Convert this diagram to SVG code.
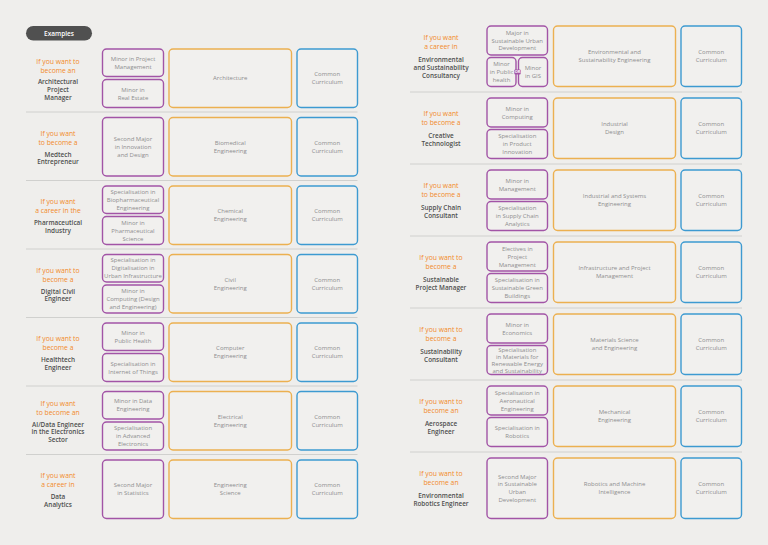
<svg xmlns="http://www.w3.org/2000/svg" width="768" height="545" viewBox="0 0 768 545">
<style>
.bg{fill:#EFEEEC}
rect.p{fill:#F1F0EE;stroke:#A254A6;stroke-width:1.4}
rect.o{fill:#F1F0EE;stroke:#ECB050;stroke-width:1.4}
rect.b{fill:#F1F0EE;stroke:#3D9AD1;stroke-width:1.4}
text{font-family:"Open Sans","Noto Sans","Liberation Sans",sans-serif;text-anchor:middle}
.t{font-size:6px;fill:#8E8E8E}
.q{font-size:6.8px;fill:#F28A2A}
.d{font-size:6.4px;font-weight:600;fill:#4E4E4E}
.sep{stroke:#D0D0CE;stroke-width:1}
</style>
<rect class="bg" x="0" y="0" width="768" height="545"/>
<g id="examples">
<rect x="26" y="26" width="66" height="14.5" rx="7.25" fill="#505050"/>
<text x="59" y="35.6" font-size="6.5" font-weight="600" fill="#FFFFFF">Examples</text>
</g>
<g id="separators">
<line class="sep" x1="26" y1="112" x2="357.5" y2="112"/>
<line class="sep" x1="26" y1="180.5" x2="357.5" y2="180.5"/>
<line class="sep" x1="26" y1="249" x2="357.5" y2="249"/>
<line class="sep" x1="26" y1="317.5" x2="357.5" y2="317.5"/>
<line class="sep" x1="26" y1="386" x2="357.5" y2="386"/>
<line class="sep" x1="26" y1="454.5" x2="357.5" y2="454.5"/>
<line class="sep" x1="410" y1="92" x2="742" y2="92"/>
<line class="sep" x1="410" y1="164" x2="742" y2="164"/>
<line class="sep" x1="410" y1="236" x2="742" y2="236"/>
<line class="sep" x1="410" y1="308" x2="742" y2="308"/>
<line class="sep" x1="410" y1="380" x2="742" y2="380"/>
<line class="sep" x1="410" y1="452" x2="742" y2="452"/>
</g>

<!-- LEFT ROW 1 -->
<g id="l1-label"><text class="q" x="58" y="63.6">If you want to</text><text class="q" x="58" y="72.6">become an</text><text class="d" x="58" y="84.1">Architectural</text><text class="d" x="58" y="91.8">Project</text><text class="d" x="58" y="99.5">Manager</text></g>
<g id="l1-p1"><rect class="p" x="102.5" y="49" width="61" height="27.5" rx="4"/><text class="t" x="133" y="60.75">Minor in Project</text><text class="t" x="133" y="68.75">Management</text></g>
<g id="l1-p2"><rect class="p" x="102.5" y="79.5" width="61" height="28" rx="4"/><text class="t" x="133" y="91.5">Minor in</text><text class="t" x="133" y="99.5">Real Estate</text></g>
<g id="l1-o"><rect class="o" x="169" y="49" width="122.5" height="58.5" rx="4"/><text class="t" x="230.25" y="80.25">Architecture</text></g>
<g id="l1-b"><rect class="b" x="297" y="49" width="60.5" height="58.5" rx="4"/><text class="t" x="327.25" y="76.25">Common</text><text class="t" x="327.25" y="84.25">Curriculum</text></g>

<!-- LEFT ROW 2 -->
<g id="l2-label"><text class="q" x="58" y="135.9">If you want</text><text class="q" x="58" y="144.9">to become a</text><text class="d" x="58" y="156.5">Medtech</text><text class="d" x="58" y="164.2">Entrepreneur</text></g>
<g id="l2-p1"><rect class="p" x="102.5" y="117.5" width="61" height="58.5" rx="4"/><text class="t" x="133" y="140.75">Second Major</text><text class="t" x="133" y="148.75">in Innovation</text><text class="t" x="133" y="156.75">and Design</text></g>
<g id="l2-o"><rect class="o" x="169" y="117.5" width="122.5" height="58.5" rx="4"/><text class="t" x="230.25" y="144.75">Biomedical</text><text class="t" x="230.25" y="152.75">Engineering</text></g>
<g id="l2-b"><rect class="b" x="297" y="117.5" width="60.5" height="58.5" rx="4"/><text class="t" x="327.25" y="144.75">Common</text><text class="t" x="327.25" y="152.75">Curriculum</text></g>

<!-- LEFT ROW 3 -->
<g id="l3-label"><text class="q" x="58" y="204.4">If you want</text><text class="q" x="58" y="213.4">a career in the</text><text class="d" x="58" y="225">Pharmaceutical</text><text class="d" x="58" y="232.7">Industry</text></g>
<g id="l3-p1"><rect class="p" x="102.5" y="186" width="61" height="27.5" rx="4"/><text class="t" x="133" y="193.75">Specialisation in</text><text class="t" x="133" y="201.75">Biopharmaceutical</text><text class="t" x="133" y="209.75">Engineering</text></g>
<g id="l3-p2"><rect class="p" x="102.5" y="216.5" width="61" height="28" rx="4"/><text class="t" x="133" y="224.5">Minor in</text><text class="t" x="133" y="232.5">Pharmaceutical</text><text class="t" x="133" y="240.5">Science</text></g>
<g id="l3-o"><rect class="o" x="169" y="186" width="122.5" height="58.5" rx="4"/><text class="t" x="230.25" y="213.25">Chemical</text><text class="t" x="230.25" y="221.25">Engineering</text></g>
<g id="l3-b"><rect class="b" x="297" y="186" width="60.5" height="58.5" rx="4"/><text class="t" x="327.25" y="213.25">Common</text><text class="t" x="327.25" y="221.25">Curriculum</text></g>

<!-- LEFT ROW 4 -->
<g id="l4-label"><text class="q" x="58" y="272.9">If you want to</text><text class="q" x="58" y="281.9">become a</text><text class="d" x="58" y="293.5">Digital Civil</text><text class="d" x="58" y="301.2">Engineer</text></g>
<g id="l4-p1"><rect class="p" x="102.5" y="254.5" width="61" height="27.5" rx="4"/><text class="t" x="133" y="262.25">Specialisation in</text><text class="t" x="133" y="270.25">Digitalisation in</text><text class="t" x="133" y="278.25">Urban Infrastructure</text></g>
<g id="l4-p2"><rect class="p" x="102.5" y="285" width="61" height="28" rx="4"/><text class="t" x="133" y="293">Minor in</text><text class="t" x="133" y="301">Computing (Design</text><text class="t" x="133" y="309">and Engineering)</text></g>
<g id="l4-o"><rect class="o" x="169" y="254.5" width="122.5" height="58.5" rx="4"/><text class="t" x="230.25" y="281.75">Civil</text><text class="t" x="230.25" y="289.75">Engineering</text></g>
<g id="l4-b"><rect class="b" x="297" y="254.5" width="60.5" height="58.5" rx="4"/><text class="t" x="327.25" y="281.75">Common</text><text class="t" x="327.25" y="289.75">Curriculum</text></g>

<!-- LEFT ROW 5 -->
<g id="l5-label"><text class="q" x="58" y="341.4">If you want to</text><text class="q" x="58" y="350.4">become a</text><text class="d" x="58" y="362">Healthtech</text><text class="d" x="58" y="369.7">Engineer</text></g>
<g id="l5-p1"><rect class="p" x="102.5" y="323" width="61" height="27.5" rx="4"/><text class="t" x="133" y="334.75">Minor in</text><text class="t" x="133" y="342.75">Public Health</text></g>
<g id="l5-p2"><rect class="p" x="102.5" y="353.5" width="61" height="28" rx="4"/><text class="t" x="133" y="365.5">Specialisation in</text><text class="t" x="133" y="373.5">Internet of Things</text></g>
<g id="l5-o"><rect class="o" x="169" y="323" width="122.5" height="58.5" rx="4"/><text class="t" x="230.25" y="350.25">Computer</text><text class="t" x="230.25" y="358.25">Engineering</text></g>
<g id="l5-b"><rect class="b" x="297" y="323" width="60.5" height="58.5" rx="4"/><text class="t" x="327.25" y="350.25">Common</text><text class="t" x="327.25" y="358.25">Curriculum</text></g>

<!-- LEFT ROW 6 -->
<g id="l6-label"><text class="q" x="58" y="406.1">If you want</text><text class="q" x="58" y="415.1">to become an</text><text class="d" x="58" y="426.6">AI/Data Engineer</text><text class="d" x="58" y="434.3">in the Electronics</text><text class="d" x="58" y="442">Sector</text></g>
<g id="l6-p1"><rect class="p" x="102.5" y="391.5" width="61" height="27.5" rx="4"/><text class="t" x="133" y="403.25">Minor in Data</text><text class="t" x="133" y="411.25">Engineering</text></g>
<g id="l6-p2"><rect class="p" x="102.5" y="422" width="61" height="28" rx="4"/><text class="t" x="133" y="430">Specialisation</text><text class="t" x="133" y="438">in Advanced</text><text class="t" x="133" y="446">Electronics</text></g>
<g id="l6-o"><rect class="o" x="169" y="391.5" width="122.5" height="58.5" rx="4"/><text class="t" x="230.25" y="418.75">Electrical</text><text class="t" x="230.25" y="426.75">Engineering</text></g>
<g id="l6-b"><rect class="b" x="297" y="391.5" width="60.5" height="58.5" rx="4"/><text class="t" x="327.25" y="418.75">Common</text><text class="t" x="327.25" y="426.75">Curriculum</text></g>

<!-- LEFT ROW 7 -->
<g id="l7-label"><text class="q" x="58" y="478.4">If you want</text><text class="q" x="58" y="487.4">a career in</text><text class="d" x="58" y="499">Data</text><text class="d" x="58" y="506.7">Analytics</text></g>
<g id="l7-p1"><rect class="p" x="102.5" y="460" width="61" height="58.5" rx="4"/><text class="t" x="133" y="487.25">Second Major</text><text class="t" x="133" y="495.25">in Statistics</text></g>
<g id="l7-o"><rect class="o" x="169" y="460" width="122.5" height="58.5" rx="4"/><text class="t" x="230.25" y="487.25">Engineering</text><text class="t" x="230.25" y="495.25">Science</text></g>
<g id="l7-b"><rect class="b" x="297" y="460" width="60.5" height="58.5" rx="4"/><text class="t" x="327.25" y="487.25">Common</text><text class="t" x="327.25" y="495.25">Curriculum</text></g>

<!-- RIGHT ROW 1 -->
<g id="r1-label"><text class="q" x="441" y="40.45">If you want</text><text class="q" x="441" y="49.15">a career in</text><text class="d" x="441" y="62.25">Environmental</text><text class="d" x="441" y="69.95">and Sustainability</text><text class="d" x="441" y="77.65">Consultancy</text></g>
<g id="r1-p1"><rect class="p" x="487" y="26" width="60.5" height="29" rx="4"/><text class="t" x="517.25" y="35">Major in</text><text class="t" x="517.25" y="42.5">Sustainable Urban</text><text class="t" x="517.25" y="50">Development</text></g>
<g id="r1-p2"><rect class="p" x="487" y="57.5" width="29" height="29" rx="4"/><text class="t" x="501.5" y="66">Minor</text><text class="t" x="501.5" y="74">in Public</text><text class="t" x="501.5" y="82">health</text></g>
<g id="r1-p3"><rect class="p" x="518.5" y="57.5" width="29" height="29" rx="4"/><text class="t" x="533" y="70">Minor</text><text class="t" x="533" y="78">in GIS</text></g>
<g id="r1-or"><rect x="514.3" y="69.4" width="6.4" height="5.2" rx="1" fill="#A254A6"/><text x="517.5" y="73.3" font-size="3.8" font-weight="700" fill="#FFFFFF">OR</text></g>
<g id="r1-o"><rect class="o" x="553.5" y="26" width="122" height="60.5" rx="4"/><text class="t" x="614.5" y="54.25">Environmental and</text><text class="t" x="614.5" y="62.25">Sustainability Engineering</text></g>
<g id="r1-b"><rect class="b" x="681" y="26" width="60.5" height="60.5" rx="4"/><text class="t" x="711.25" y="54.25">Common</text><text class="t" x="711.25" y="62.25">Curriculum</text></g>

<!-- RIGHT ROW 2 -->
<g id="r2-label"><text class="q" x="441" y="116.3">If you want</text><text class="q" x="441" y="125">to become a</text><text class="d" x="441" y="138.1">Creative</text><text class="d" x="441" y="145.8">Technologist</text></g>
<g id="r2-p1"><rect class="p" x="487" y="98" width="60.5" height="29" rx="4"/><text class="t" x="517.25" y="110.5">Minor in</text><text class="t" x="517.25" y="118.5">Computing</text></g>
<g id="r2-p2"><rect class="p" x="487" y="129.5" width="60.5" height="29" rx="4"/><text class="t" x="517.25" y="138">Specialisation</text><text class="t" x="517.25" y="146">in Product</text><text class="t" x="517.25" y="154">Innovation</text></g>
<g id="r2-o"><rect class="o" x="553.5" y="98" width="122" height="60.5" rx="4"/><text class="t" x="614.5" y="126.25">Industrial</text><text class="t" x="614.5" y="134.25">Design</text></g>
<g id="r2-b"><rect class="b" x="681" y="98" width="60.5" height="60.5" rx="4"/><text class="t" x="711.25" y="126.25">Common</text><text class="t" x="711.25" y="134.25">Curriculum</text></g>

<!-- RIGHT ROW 3 -->
<g id="r3-label"><text class="q" x="441" y="188.3">If you want</text><text class="q" x="441" y="197">to become a</text><text class="d" x="441" y="210.1">Supply Chain</text><text class="d" x="441" y="217.8">Consultant</text></g>
<g id="r3-p1"><rect class="p" x="487" y="170" width="60.5" height="29" rx="4"/><text class="t" x="517.25" y="182.5">Minor in</text><text class="t" x="517.25" y="190.5">Management</text></g>
<g id="r3-p2"><rect class="p" x="487" y="201.5" width="60.5" height="29" rx="4"/><text class="t" x="517.25" y="210">Specialisation</text><text class="t" x="517.25" y="218">in Supply Chain</text><text class="t" x="517.25" y="226">Analytics</text></g>
<g id="r3-o"><rect class="o" x="553.5" y="170" width="122" height="60.5" rx="4"/><text class="t" x="614.5" y="198.25">Industrial and Systems</text><text class="t" x="614.5" y="206.25">Engineering</text></g>
<g id="r3-b"><rect class="b" x="681" y="170" width="60.5" height="60.5" rx="4"/><text class="t" x="711.25" y="198.25">Common</text><text class="t" x="711.25" y="206.25">Curriculum</text></g>

<!-- RIGHT ROW 4 -->
<g id="r4-label"><text class="q" x="441" y="260.3">If you want to</text><text class="q" x="441" y="269">become a</text><text class="d" x="441" y="282.1">Sustainable</text><text class="d" x="441" y="289.8">Project Manager</text></g>
<g id="r4-p1"><rect class="p" x="487" y="242" width="60.5" height="29" rx="4"/><text class="t" x="517.25" y="250.5">Electives in</text><text class="t" x="517.25" y="258.5">Project</text><text class="t" x="517.25" y="266.5">Management</text></g>
<g id="r4-p2"><rect class="p" x="487" y="273.5" width="60.5" height="29" rx="4"/><text class="t" x="517.25" y="282">Specialisation in</text><text class="t" x="517.25" y="290">Sustainable Green</text><text class="t" x="517.25" y="298">Buildings</text></g>
<g id="r4-o"><rect class="o" x="553.5" y="242" width="122" height="60.5" rx="4"/><text class="t" x="614.5" y="270.25">Infrastructure and Project</text><text class="t" x="614.5" y="278.25">Management</text></g>
<g id="r4-b"><rect class="b" x="681" y="242" width="60.5" height="60.5" rx="4"/><text class="t" x="711.25" y="270.25">Common</text><text class="t" x="711.25" y="278.25">Curriculum</text></g>

<!-- RIGHT ROW 5 -->
<g id="r5-label"><text class="q" x="441" y="332.3">If you want to</text><text class="q" x="441" y="341">become a</text><text class="d" x="441" y="354.1">Sustainability</text><text class="d" x="441" y="361.8">Consultant</text></g>
<g id="r5-p1"><rect class="p" x="487" y="314" width="60.5" height="29" rx="4"/><text class="t" x="517.25" y="326.5">Minor in</text><text class="t" x="517.25" y="334.5">Economics</text></g>
<g id="r5-p2"><rect class="p" x="487" y="345.5" width="60.5" height="29" rx="4"/><text class="t" x="517.25" y="351.5">Specialisation</text><text class="t" x="517.25" y="358.5">in Materials for</text><text class="t" x="517.25" y="365.5">Renewable Energy</text><text class="t" x="517.25" y="372.5">and Sustainability</text></g>
<g id="r5-o"><rect class="o" x="553.5" y="314" width="122" height="60.5" rx="4"/><text class="t" x="614.5" y="342.25">Materials Science</text><text class="t" x="614.5" y="350.25">and Engineering</text></g>
<g id="r5-b"><rect class="b" x="681" y="314" width="60.5" height="60.5" rx="4"/><text class="t" x="711.25" y="342.25">Common</text><text class="t" x="711.25" y="350.25">Curriculum</text></g>

<!-- RIGHT ROW 6 -->
<g id="r6-label"><text class="q" x="441" y="404.3">If you want to</text><text class="q" x="441" y="413">become an</text><text class="d" x="441" y="426.1">Aerospace</text><text class="d" x="441" y="433.8">Engineer</text></g>
<g id="r6-p1"><rect class="p" x="487" y="386" width="60.5" height="29" rx="4"/><text class="t" x="517.25" y="394.5">Specialisation in</text><text class="t" x="517.25" y="402.5">Aeronautical</text><text class="t" x="517.25" y="410.5">Engineering</text></g>
<g id="r6-p2"><rect class="p" x="487" y="417.5" width="60.5" height="29" rx="4"/><text class="t" x="517.25" y="430">Specialisation in</text><text class="t" x="517.25" y="438">Robotics</text></g>
<g id="r6-o"><rect class="o" x="553.5" y="386" width="122" height="60.5" rx="4"/><text class="t" x="614.5" y="414.25">Mechanical</text><text class="t" x="614.5" y="422.25">Engineering</text></g>
<g id="r6-b"><rect class="b" x="681" y="386" width="60.5" height="60.5" rx="4"/><text class="t" x="711.25" y="414.25">Common</text><text class="t" x="711.25" y="422.25">Curriculum</text></g>

<!-- RIGHT ROW 7 -->
<g id="r7-label"><text class="q" x="441" y="476.3">If you want to</text><text class="q" x="441" y="485">become an</text><text class="d" x="441" y="498.1">Environmental</text><text class="d" x="441" y="505.8">Robotics Engineer</text></g>
<g id="r7-p1"><rect class="p" x="487" y="458" width="60.5" height="60.5" rx="4"/><text class="t" x="517.25" y="478.55">Second Major</text><text class="t" x="517.25" y="486.35">in Sustainable</text><text class="t" x="517.25" y="494.15">Urban</text><text class="t" x="517.25" y="501.95">Development</text></g>
<g id="r7-o"><rect class="o" x="553.5" y="458" width="122" height="60.5" rx="4"/><text class="t" x="614.5" y="486.25">Robotics and Machine</text><text class="t" x="614.5" y="494.25">Intelligence</text></g>
<g id="r7-b"><rect class="b" x="681" y="458" width="60.5" height="60.5" rx="4"/><text class="t" x="711.25" y="486.25">Common</text><text class="t" x="711.25" y="494.25">Curriculum</text></g>
</svg>
